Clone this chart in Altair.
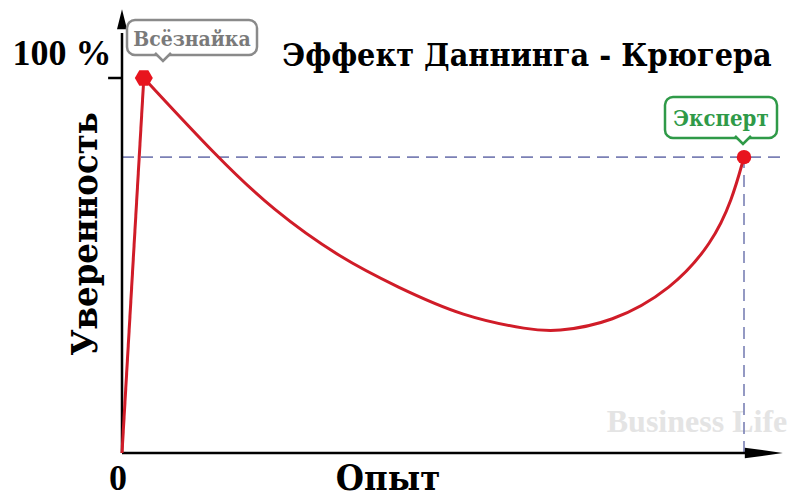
import altair as alt
import pandas as pd

# ---- data ----
experience = [0, 3.3, 14.4, 22.8, 33.0, 41.6, 51.6, 61.9, 65.5, 74.1, 83.2, 89.3, 92.3, 94.1]
confidence = [0, 100, 78.9, 64.8, 52.0, 44.3, 36.3, 32.8, 32.3, 34.7, 43.7, 56.0, 67.5, 78.9]
peak_label = "Всёзнайка"
expert_label = "Эксперт"
title_text = "Эффект Даннинга - Крюгера"
x_title = "Опыт"
y_title = "Уверенность"
y_top_label = "100 %"
origin_label = "0"
watermark = "Business Life"

# build line table: straight rise to the peak, then smooth descent/ascent
rows = []
for i in range(2):
    rows.append({"x": experience[i], "y": confidence[i], "seg": "rise", "o": i})
for i in range(1, len(experience)):
    rows.append({"x": experience[i], "y": confidence[i], "seg": "curve", "o": i})
line_df = pd.DataFrame(rows)

peak_x, peak_y = experience[1], confidence[1]
exp_x, exp_y = experience[-1], confidence[-1]

XS = alt.Scale(domain=[0, 100], nice=False, zero=False)
YS = alt.Scale(domain=[0, 100], nice=False, zero=False)
FONT_LAT = "'Liberation Serif', 'Times New Roman', serif"
FONT_CYR = "'DejaVu Serif Condensed', 'DejaVu Serif', serif"
RED = "#d01c28"
DASH = "#7b80b5"

base = alt.Chart(pd.DataFrame({"a": [0]}))

def X(v):
    return alt.X(datum=v, scale=XS, axis=None)

def Y(v):
    return alt.Y(datum=v, scale=YS, axis=None)

# dashed guide lines
h_dash = base.mark_rule(stroke=DASH, strokeWidth=1.6, strokeDash=[12, 7]).encode(
    x=X(0), x2=alt.X2(datum=100), y=Y(exp_y))
v_dash = base.mark_rule(stroke=DASH, strokeWidth=1.6, strokeDash=[12, 7]).encode(
    x=X(exp_x), y=Y(0), y2=alt.Y2(datum=exp_y))

# axes
x_axis = base.mark_rule(stroke="black", strokeWidth=2.5).encode(
    x=X(0), x2=alt.X2(datum=95), y=Y(0))
y_axis = base.mark_rule(stroke="black", strokeWidth=2.5).encode(
    x=X(0), y=Y(0), y2=alt.Y2(datum=112))
tick100 = base.mark_rule(stroke="black", strokeWidth=2.5).encode(
    x=X(-2.1), x2=alt.X2(datum=0), y=Y(100))
x_arrow = base.mark_point(shape="M 1 0 L -1 -0.28 L -1 0.28 Z", size=1444, filled=True,
                          color="black", opacity=1, strokeWidth=0).encode(x=X(97.1), y=Y(0))
y_arrow = base.mark_point(shape="M 0 -1 L 0.5 1 L -0.5 1 Z", size=400, filled=True,
                          color="black", opacity=1, strokeWidth=0).encode(x=X(0), y=Y(115.7))

# curve
curve = alt.Chart(line_df).mark_line(color=RED, strokeWidth=3, interpolate="basis").encode(
    x=alt.X("x:Q", scale=XS, axis=None),
    y=alt.Y("y:Q", scale=YS, axis=None),
    detail="seg:N",
    order="o:Q",
)

peak_pt = base.mark_point(shape="M -1 0 L -0.5 -0.87 L 0.5 -0.87 L 1 0 L 0.5 0.87 L -0.5 0.87 Z",
                          size=324, filled=True, color="#e8141e", opacity=1, strokeWidth=0).encode(
    x=X(peak_x), y=Y(peak_y))
exp_pt = base.mark_point(shape="circle", size=210, filled=True, color="#e8141e",
                         opacity=1, strokeWidth=0).encode(x=X(exp_x), y=Y(exp_y))

# texts
def txt(text, x, y, size, font, color="black", angle=0, weight="bold", align="center"):
    return base.mark_text(text=text, font=font, fontSize=size, fontWeight=weight, color=color,
                          align=align, baseline="alphabetic", angle=angle).encode(
        x=alt.value(x), y=alt.value(y))

title = txt(title_text, 405, -12, 32, FONT_CYR)
top_lbl = txt(y_top_label, -60, -13, 36, FONT_LAT)
zero_lbl = txt(origin_label, -4, 412, 36, FONT_LAT)
xt = txt(x_title, 266, 412, 36, FONT_CYR)
yt = txt(y_title, -25, 156, 36, FONT_CYR, angle=270)
wm = txt(watermark, 575, 354, 32, FONT_LAT, color="#e4e4e4")

# callout boxes
GRAY = "#8a8a8a"
GREEN = "#2f9a48"
ptr_shape = "M -1 -0.5 L 0 0.5 L 1 -0.5"

box1 = base.mark_rect(fill="white", stroke=GRAY, strokeWidth=2.5, cornerRadius=8).encode(
    x=alt.value(5), x2=alt.value(135), y=alt.value(-58), y2=alt.value(-23))
ptr1 = base.mark_point(shape=ptr_shape, size=256, filled=True, fill="white", stroke=GRAY,
                       strokeWidth=2.5, opacity=1).encode(x=alt.value(41), y=alt.value(-21))
lbl1 = txt(peak_label, 70, -32, 21, FONT_CYR, color="#7a7a7a")

box2 = base.mark_rect(fill="white", stroke=GREEN, strokeWidth=2.5, cornerRadius=8).encode(
    x=alt.value(543), x2=alt.value(655), y=alt.value(19), y2=alt.value(60))
ptr2 = base.mark_point(shape=ptr_shape, size=256, filled=True, fill="white", stroke=GREEN,
                       strokeWidth=2.5, opacity=1).encode(x=alt.value(621), y=alt.value(62))
lbl2 = txt(expert_label, 599, 48, 22, FONT_CYR, color=GREEN)

chart = alt.layer(
    wm, h_dash, v_dash, x_axis, y_axis, tick100, x_arrow, y_arrow,
    curve, peak_pt, exp_pt,
    title, top_lbl, zero_lbl, xt, yt,
    box1, ptr1, lbl1, box2, ptr2, lbl2,
).properties(
    width=661, height=375,
    padding={"left": 114, "top": 70, "right": 8, "bottom": 45},
    autosize=alt.AutoSizeParams(type="none"),
    background="white",
).configure_view(stroke=None)

chart.save("out.html", embed_options={"renderer": "svg", "actions": False})
